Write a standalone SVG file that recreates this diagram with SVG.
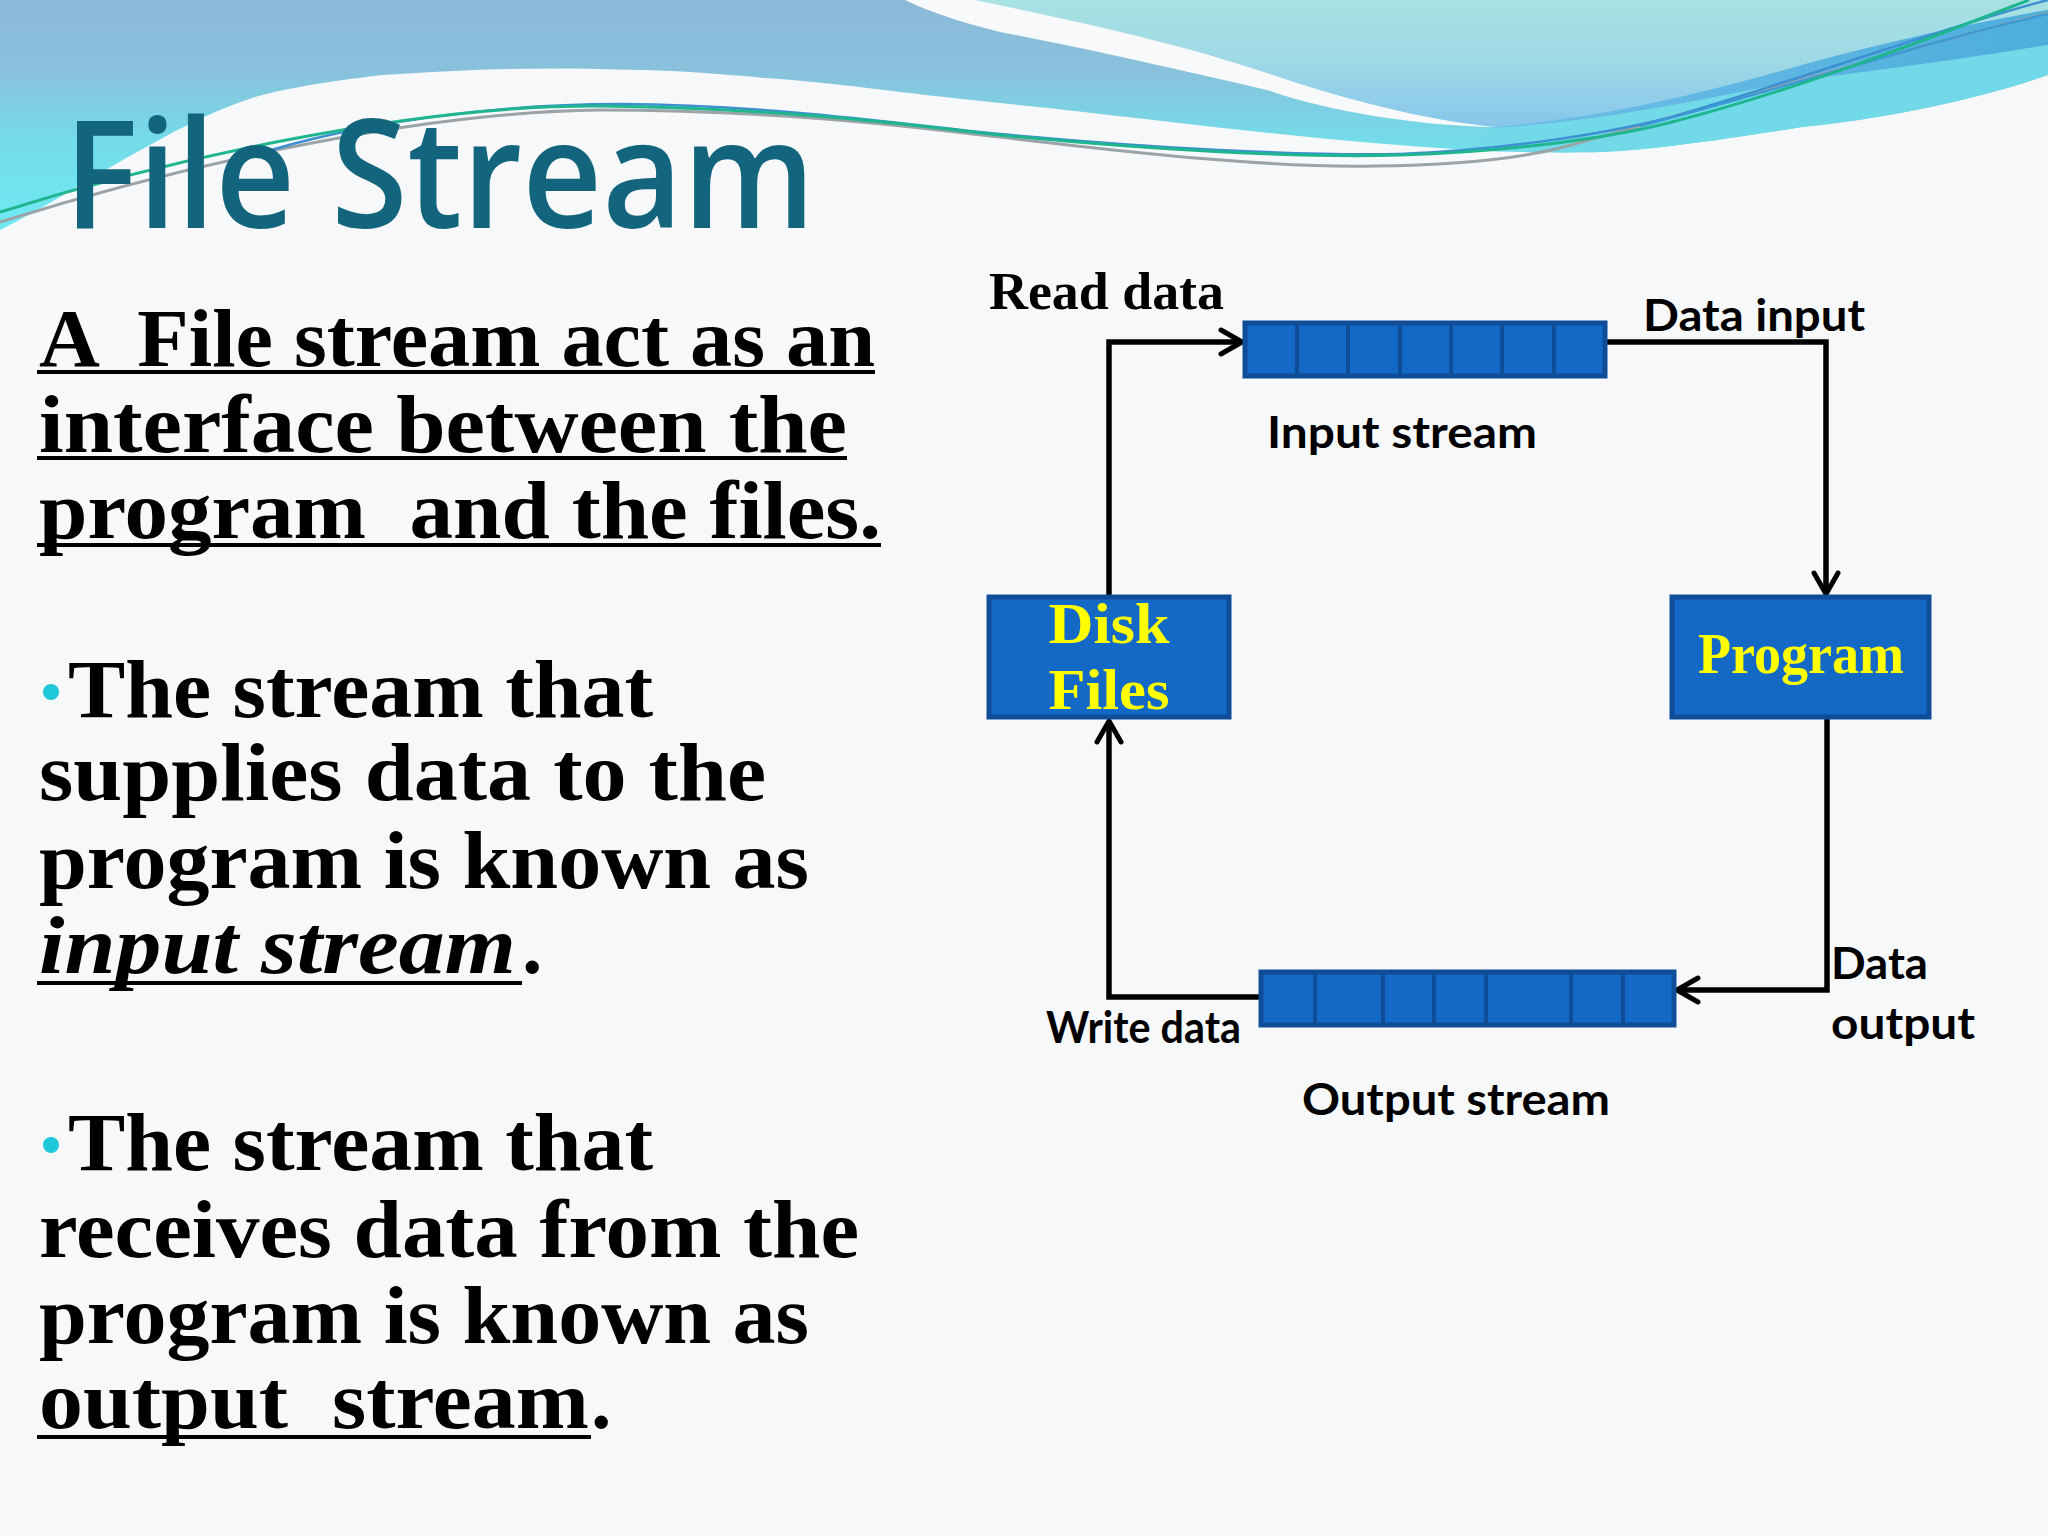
<svg xmlns="http://www.w3.org/2000/svg" width="2048" height="1536" viewBox="0 0 2048 1536">
<defs>
<linearGradient id="gl" gradientUnits="userSpaceOnUse" x1="0" y1="0" x2="0" y2="230">
<stop offset="0" stop-color="#8bb9d8"/>
<stop offset="0.3" stop-color="#89c1dc"/>
<stop offset="0.6" stop-color="#74dbe8"/>
<stop offset="1" stop-color="#6eeaf2"/>
</linearGradient>
<linearGradient id="gr" gradientUnits="userSpaceOnUse" x1="0" y1="0" x2="0" y2="130">
<stop offset="0" stop-color="#a9e2e3"/>
<stop offset="0.5" stop-color="#9dd8e6"/>
<stop offset="1" stop-color="#86c5ec"/>
</linearGradient>
<linearGradient id="gb" x1="0" y1="0" x2="1" y2="0">
<stop offset="0" stop-color="#6fbde8"/>
<stop offset="1" stop-color="#4caedc"/>
</linearGradient>
<marker id="arr" viewBox="0 0 28 30" refX="24" refY="15" markerWidth="28" markerHeight="30" markerUnits="userSpaceOnUse" orient="auto">
<path d="M3,3 L24,15 L3,27" fill="none" stroke="#000" stroke-width="5" stroke-linecap="round" stroke-linejoin="round"/>
</marker>
<style>
.body{font-family:"Liberation Serif",serif;font-weight:bold;font-size:82px;fill:#000}
.ul{stroke:#000;stroke-width:4}
.box{fill:#1569c6;stroke:#0f4d98;stroke-width:5}
.cell{fill:none;stroke:#0f4d98;stroke-width:4}
.ylw{font-family:"Liberation Serif",serif;font-weight:bold;font-size:56px;fill:#ffff00}
.lbl{font-family:Lato,"Open Sans",sans-serif;font-weight:bold;font-size:44px;fill:#000}
.slbl{font-family:"Liberation Serif",serif;font-weight:bold;font-size:52px;fill:#000}
.conn{fill:none;stroke:#000;stroke-width:5.5}
</style>
</defs>
<rect width="2048" height="1536" fill="#f7f8fa"/>
<!-- top decoration -->
<path d="M0,0 H2048 V75 C1960,105 1870,120 1802,127 C1720,140 1650,150 1602,152 C1560,153 1510,152 1468,150 C1300,140 1150,118 1000,103 C900,93 830,82 765,78 C700,72 660,70 638,70 C560,67 480,68 383,75 C320,82 280,90 255,97 C200,115 160,140 128,157 C80,185 40,210 0,230 Z" fill="url(#gl)"/>
<path d="M975,0 H2048 V10 C1990,20 1900,38 1802,65 C1700,95 1600,118 1495,127 C1420,120 1330,95 1267,73 C1170,40 1060,18 1000,7 Z" fill="url(#gr)"/>
<path d="M905,0 H975 C1060,18 1170,40 1267,73 C1330,95 1420,120 1495,127 C1420,126 1330,112 1267,90 C1180,70 1080,47 1000,32 C960,22 930,12 905,0 Z" fill="#f8f9fa"/>
<path d="M1495,127 C1600,118 1700,95 1802,65 C1900,38 1990,20 2048,10 V45 C1990,55 1900,68 1802,80 C1700,100 1600,122 1495,128 Z" fill="url(#gb)"/>
<path d="M1495,128 C1600,122 1700,100 1802,80 C1900,68 1990,55 2048,45 V75 C1960,105 1870,120 1802,127 C1720,140 1650,150 1602,152 C1560,153 1510,152 1468,150 Z" fill="#72d9e8"/>
<path d="M0,222 C150,175 400,112 600,110 C800,110 950,132 1000,137 C1150,155 1280,168 1374,166 C1460,165 1520,158 1560,148 C1700,110 1900,50 2048,13" fill="none" stroke="#9aa3a8" stroke-width="3"/>
<path d="M240,160 C350,122 500,104 620,104 C780,105 930,128 1000,134 C1150,148 1300,156 1400,154 C1500,150 1600,135 1668,118 C1800,80 1950,25 2048,0" fill="none" stroke="#3c8fd0" stroke-width="2.5"/>
<path d="M1640,126 C1780,90 1930,40 2048,14" fill="none" stroke="#3a9ad6" stroke-width="2.5"/>
<path d="M0,212 C150,165 400,105 600,106 C800,108 950,130 1000,135 C1150,150 1300,158 1401,155 C1500,152 1600,140 1668,123 C1800,90 1950,30 2029,0" fill="none" stroke="#1fb58e" stroke-width="3"/>
<text x="64" y="228" font-family="'Open Sans','Noto Sans',sans-serif" font-weight="600" font-size="150" fill="#12657c" textLength="751" lengthAdjust="spacingAndGlyphs">File Stream</text>

<!-- left text -->
<g id="intro">
<text class="body" x="39" y="366" textLength="836" lengthAdjust="spacingAndGlyphs" xml:space="preserve">A  File stream act as an</text>
<text class="body" x="39" y="452" textLength="808" lengthAdjust="spacingAndGlyphs">interface between the</text>
<text class="body" x="39" y="538" textLength="842" lengthAdjust="spacingAndGlyphs" xml:space="preserve">program  and the files.</text>
<line class="ul" x1="37" y1="372" x2="875" y2="372"/>
<line class="ul" x1="37" y1="458" x2="847" y2="458"/>
<line class="ul" x1="37" y1="545" x2="881" y2="545"/>
</g>
<g id="bullet1">
<circle cx="51" cy="692" r="8" fill="#1ec8d8"/>
<text class="body" x="68" y="717" textLength="585" lengthAdjust="spacingAndGlyphs">The stream that</text>
<text class="body" x="39" y="800" textLength="727" lengthAdjust="spacingAndGlyphs">supplies data to the</text>
<text class="body" x="39" y="888" textLength="770" lengthAdjust="spacingAndGlyphs">program is known as</text>
<text class="body" x="39" y="973"><tspan font-style="italic" textLength="477" lengthAdjust="spacingAndGlyphs">input stream</tspan><tspan x="522">.</tspan></text>
<line class="ul" x1="37" y1="983" x2="522" y2="983"/>
</g>
<g id="bullet2">
<circle cx="51" cy="1145" r="8" fill="#1ec8d8"/>
<text class="body" x="68" y="1170" textLength="585" lengthAdjust="spacingAndGlyphs">The stream that</text>
<text class="body" x="39" y="1257" textLength="820" lengthAdjust="spacingAndGlyphs">receives data from the</text>
<text class="body" x="39" y="1343" textLength="770" lengthAdjust="spacingAndGlyphs">program is known as</text>
<text class="body" x="39" y="1428" xml:space="preserve"><tspan textLength="550" lengthAdjust="spacingAndGlyphs">output  stream</tspan><tspan x="591">.</tspan></text>
<line class="ul" x1="37" y1="1437" x2="591" y2="1437"/>
</g>

<!-- connectors -->
<g id="connectors">
<path class="conn" d="M1109,597 V342 H1242" marker-end="url(#arr)"/>
<path class="conn" d="M1606,342 H1826 V594" marker-end="url(#arr)"/>
<path class="conn" d="M1827,718 V990 H1677" marker-end="url(#arr)"/>
<path class="conn" d="M1260,997 H1109 V721" marker-end="url(#arr)"/>
</g>

<!-- nodes -->
<g id="input-stream">
<rect class="box" x="1245" y="323" width="360" height="53"/>
<path class="cell" d="M1297,325 V374 M1348,325 V374 M1400,325 V374 M1451,325 V374 M1502,325 V374 M1554,325 V374"/>
</g>
<g id="output-stream">
<rect class="box" x="1261" y="972" width="413" height="53"/>
<path class="cell" d="M1315,974 V1023 M1383,974 V1023 M1434,974 V1023 M1486,974 V1023 M1571,974 V1023 M1623,974 V1023"/>
</g>
<g id="disk-files">
<rect class="box" x="989" y="597" width="240" height="120"/>
<text class="ylw" x="1109" y="643" text-anchor="middle" textLength="121" lengthAdjust="spacingAndGlyphs">Disk</text>
<text class="ylw" x="1109" y="709" text-anchor="middle" textLength="121" lengthAdjust="spacingAndGlyphs">Files</text>
</g>
<g id="program">
<rect class="box" x="1672" y="597" width="257" height="120"/>
<text class="ylw" x="1801" y="673" text-anchor="middle" textLength="206" lengthAdjust="spacingAndGlyphs">Program</text>
</g>

<!-- labels -->
<g id="labels">
<text class="slbl" x="989" y="309" textLength="235" lengthAdjust="spacingAndGlyphs">Read data</text>
<text class="lbl" x="1643" y="331" textLength="222" lengthAdjust="spacingAndGlyphs">Data input</text>
<text class="lbl" x="1267" y="448" textLength="270" lengthAdjust="spacingAndGlyphs">Input stream</text>
<text class="lbl" x="1046" y="1043" textLength="195" lengthAdjust="spacingAndGlyphs">Write data</text>
<text class="lbl" x="1831" y="979" textLength="97" lengthAdjust="spacingAndGlyphs">Data</text>
<text class="lbl" x="1831" y="1039" textLength="144" lengthAdjust="spacingAndGlyphs">output</text>
<text class="lbl" x="1302" y="1115" textLength="308" lengthAdjust="spacingAndGlyphs">Output stream</text>
</g>
</svg>
